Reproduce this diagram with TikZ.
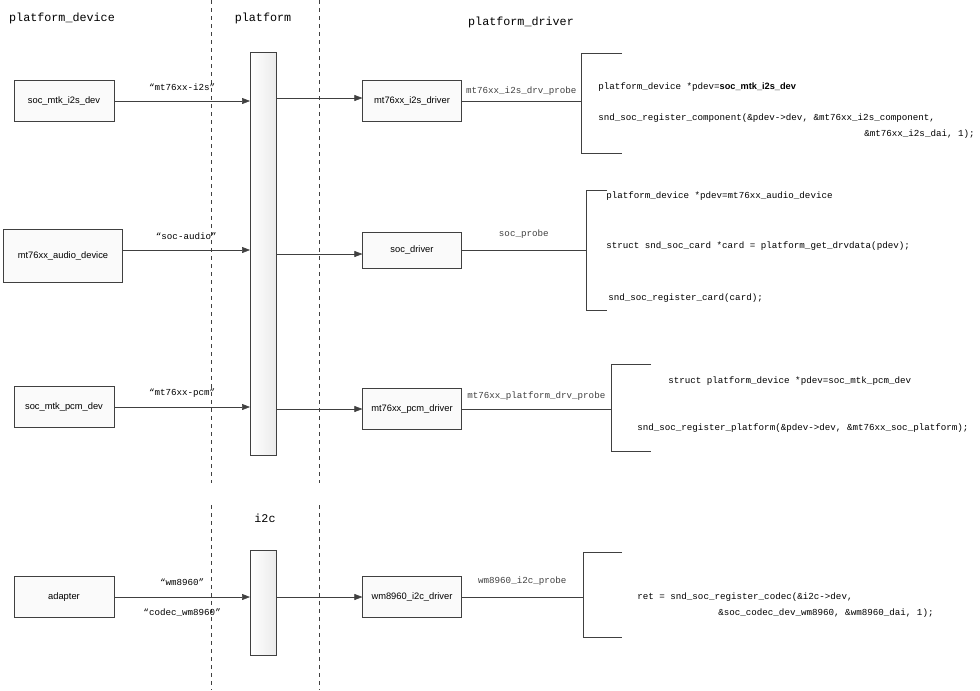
\documentclass[tikz,border=0pt]{standalone}
\usepackage{fontspec}
\setmainfont{Liberation Sans}
\setmonofont{Liberation Mono}
\usetikzlibrary{arrows.meta,positioning}
\begin{document}
\begin{tikzpicture}[x=0.75pt,y=-0.75pt,
  box/.style={draw=black!75,fill=black!2,minimum width=75pt,minimum height=31pt,inner sep=1pt,font=\fontsize{7}{8}\selectfont},
  code/.style={anchor=west,inner sep=0pt,font=\ttfamily\fontsize{6.9}{8}\selectfont},
  head/.style={font=\ttfamily\fontsize{8.8}{10}\selectfont},
  lbl/.style={font=\ttfamily\fontsize{6.9}{8}\selectfont},
  arr/.style={draw=black!75,-{Triangle[length=6pt,width=4.5pt]}},
  bar/.style={draw=black!75,left color=white,right color=black!8}]
\useasboundingbox (0,0) rectangle (980,690);
% headings
\node[head] at (62,18) {platform\_device};
\node[head] at (263,18) {platform};
\node[head] at (521,22) {platform\_driver};
\node[head] at (265,518) {i2c};
% dashed separators
\foreach \x in {211,319} {
\draw[dashed,black!75] (\x,0) -- (\x,483);
\draw[dashed,black!75] (\x,505) -- (\x,690);
}
% buses
\draw[bar] (250,52) rectangle (276,455);
\draw[bar] (250,550) rectangle (276,655);
\coordinate (pbar) at (263,0);
% devices
\node[box] (i2sdev) at (64,101) {soc\_mtk\_i2s\_dev};
\node[box,minimum width=89pt,minimum height=40pt] (audiodev) at (63,256) {mt76xx\_audio\_device};
\node[box] (pcmdev) at (64,407) {soc\_mtk\_pcm\_dev};
\node[box] (adapter) at (64,597) {adapter};
% drivers
\node[box,minimum width=74pt] (i2sdrv) at (412,101) {mt76xx\_i2s\_driver};
\node[box,minimum width=74pt,minimum height=27pt] (socdrv) at (412,250) {soc\_driver};
\node[box,minimum width=74pt] (pcmdrv) at (412,409) {mt76xx\_pcm\_driver};
\node[box,minimum width=74pt] (i2cdrv) at (412,597) {wm8960\_i2c\_driver};
% device -> bus
\coordinate (b1) at (250,101); \coordinate (b2) at (250,250);
\coordinate (b3) at (250,407); \coordinate (b4) at (250,597);
\draw[arr] (i2sdev) -- (b1) node[lbl,midway,above=4pt] {“mt76xx-i2s”};
\draw[arr] (audiodev.east|-b2) -- (b2) node[lbl,midway,above=4pt] {“soc-audio”};
\draw[arr] (pcmdev) -- (b3) node[lbl,midway,above=4pt] {“mt76xx-pcm”};
\draw[arr] (adapter) -- (b4) node[lbl,midway,above=5pt] {“wm8960”} node[lbl,midway,below=5pt] {“codec\_wm8960”};
% bus -> driver
\foreach \d/\y in {i2sdrv/98,socdrv/254,pcmdrv/409,i2cdrv/597}
  \draw[arr] (276,\y) -- (\d.west|-{0,\y});
% probe brackets
\coordinate (k1) at (581,101); \coordinate (k2) at (586,250);
\coordinate (k3) at (611,409); \coordinate (k4) at (583,597);
\draw[black!75] (i2sdrv) -- (k1) node[lbl,midway,above=1pt] {mt76xx\_i2s\_drv\_probe};
\draw[black!75] (socdrv) -- (k2) node[lbl,midway,above=5pt] {soc\_probe};
\draw[black!75] (pcmdrv) -- (k3) node[lbl,midway,above=3pt] {mt76xx\_platform\_drv\_probe};
\draw[black!75] (i2cdrv) -- (k4) node[lbl,midway,above=5pt] {wm8960\_i2c\_probe};
\draw[black!75] (622,53) -| (581,153) -- (622,153);
\draw[black!75] (607,190) -| (586,310) -- (607,310);
\draw[black!75] (651,364) -| (611,451) -- (651,451);
\draw[black!75] (622,552) -| (583,637) -- (622,637);
% code
\node[code] (c1) at (598,87) {platform\_device *pdev=\textrm{\bfseries soc\_mtk\_i2s\_dev}};
\node[code] (c2) at (598,118) {snd\_soc\_register\_component(\&pdev->dev, \&mt76xx\_i2s\_component,};
\node[code] (c3) at (864,134) {\&mt76xx\_i2s\_dai, 1);};
\node[code] (c4) at (606,196) {platform\_device *pdev=mt76xx\_audio\_device};
\node[code] (c5) at (606,246) {struct snd\_soc\_card *card = platform\_get\_drvdata(pdev);};
\node[code] (c6) at (608,298) {snd\_soc\_register\_card(card);};
\node[code] (c7) at (668,381) {struct platform\_device *pdev=soc\_mtk\_pcm\_dev};
\node[code] (c8) at (637,428) {snd\_soc\_register\_platform(\&pdev->dev, \&mt76xx\_soc\_platform);};
\node[code] (c9) at (637,597) {ret = snd\_soc\_register\_codec(\&i2c->dev,};
\node[code] (c10) at (718,613) {\&soc\_codec\_dev\_wm8960, \&wm8960\_dai, 1);};
\end{tikzpicture}
\end{document}
